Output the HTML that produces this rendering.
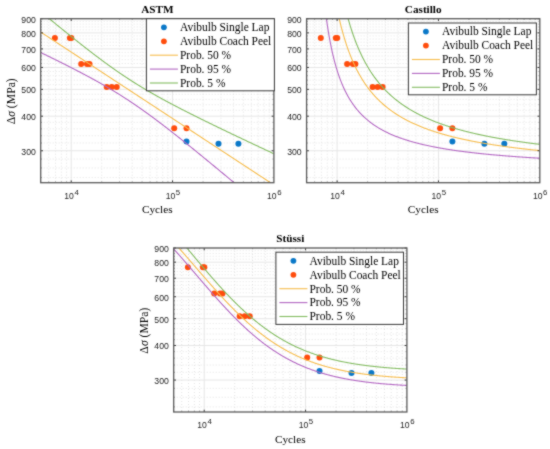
<!DOCTYPE html><html><head><meta charset="utf-8"><style>html,body{margin:0;padding:0;background:#fff;width:550px;height:449px;overflow:hidden}svg{display:block}.tk{font-family:"Liberation Sans",sans-serif;fill:#222}.sr{font-family:"Liberation Serif",serif;fill:#000}</style></head><body>
<div id="wrap"><svg width="550" height="449" viewBox="0 0 550 449"><filter id="bl" x="0" y="0" width="550" height="449" filterUnits="userSpaceOnUse" color-interpolation-filters="sRGB"><feConvolveMatrix order="3" kernelMatrix="1 2 1 2 14 2 1 2 1" divisor="26" edgeMode="duplicate"/></filter><g filter="url(#bl)"><rect width="550" height="449" fill="#fff"/>
<path d="M48.72 18.7V182.7M55.51 18.7V182.7M61.39 18.7V182.7M66.57 18.7V182.7M101.72 18.7V182.7M119.56 18.7V182.7M132.22 18.7V182.7M142.05 18.7V182.7M150.07 18.7V182.7M156.86 18.7V182.7M162.73 18.7V182.7M167.92 18.7V182.7M203.06 18.7V182.7M220.91 18.7V182.7M233.57 18.7V182.7M243.39 18.7V182.7M251.42 18.7V182.7M258.2 18.7V182.7M264.08 18.7V182.7M269.26 18.7V182.7M40.7 177.58H273.9M40.7 167.96H273.9M40.7 159.05H273.9M40.7 143H273.9M40.7 135.72H273.9M40.7 128.84H273.9M40.7 122.35H273.9M40.7 110.31H273.9M40.7 104.72H273.9M40.7 99.38H273.9M40.7 94.26H273.9M40.7 84.64H273.9M40.7 80.1H273.9M40.7 75.73H273.9M40.7 71.51H273.9M40.7 63.5H273.9M40.7 59.68H273.9M40.7 55.98H273.9M40.7 52.39H273.9M40.7 45.52H273.9M40.7 42.23H273.9M40.7 39.02H273.9M40.7 35.9H273.9M40.7 29.89H273.9M40.7 26.99H273.9M40.7 24.16H273.9M40.7 21.4H273.9" stroke="#d8d8d8" stroke-width="0.7" stroke-dasharray="1 2" fill="none"/>
<path d="M71.21 18.7V182.7M172.55 18.7V182.7M40.7 150.76H273.9M40.7 116.18H273.9M40.7 89.36H273.9M40.7 67.44H273.9M40.7 48.91H273.9M40.7 32.86H273.9M40.7 18.7H273.9" stroke="#e6e6e6" stroke-width="1" fill="none"/>
<circle cx="54.9" cy="37.9" r="3" fill="#FF4D0D"/>
<circle cx="69.9" cy="37.9" r="3" fill="#FF4D0D"/>
<circle cx="71.3" cy="37.9" r="3" fill="#FF4D0D"/>
<circle cx="81.2" cy="64.1" r="3" fill="#FF4D0D"/>
<circle cx="87" cy="64.1" r="3" fill="#FF4D0D"/>
<circle cx="89.5" cy="64.1" r="3" fill="#FF4D0D"/>
<circle cx="106.7" cy="86.9" r="3" fill="#FF4D0D"/>
<circle cx="111.7" cy="86.9" r="3" fill="#FF4D0D"/>
<circle cx="116.7" cy="86.9" r="3" fill="#FF4D0D"/>
<circle cx="174.2" cy="128.2" r="3" fill="#FF4D0D"/>
<circle cx="186.5" cy="128.2" r="3" fill="#FF4D0D"/>
<circle cx="186.5" cy="141.6" r="3" fill="#0A78C8"/>
<circle cx="218.5" cy="143.8" r="3" fill="#0A78C8"/>
<circle cx="238.4" cy="143.8" r="3" fill="#0A78C8"/>
<clipPath id="castm"><rect x="40.7" y="18.7" width="233.2" height="164"/></clipPath>
<polyline clip-path="url(#castm)" points="40.70,32.06 41.28,32.45 41.87,32.83 42.45,33.21 43.04,33.59 43.62,33.98 44.21,34.36 44.79,34.74 45.38,35.13 45.96,35.51 46.54,35.89 47.13,36.28 47.71,36.66 48.30,37.04 48.88,37.43 49.47,37.81 50.05,38.19 50.64,38.58 51.22,38.96 51.80,39.34 52.39,39.73 52.97,40.11 53.56,40.49 54.14,40.87 54.73,41.26 55.31,41.64 55.90,42.02 56.48,42.41 57.06,42.79 57.65,43.17 58.23,43.56 58.82,43.94 59.40,44.32 59.99,44.71 60.57,45.09 61.16,45.47 61.74,45.86 62.33,46.24 62.91,46.62 63.49,47.01 64.08,47.39 64.66,47.77 65.25,48.15 65.83,48.54 66.42,48.92 67.00,49.30 67.59,49.69 68.17,50.07 68.75,50.45 69.34,50.84 69.92,51.22 70.51,51.60 71.09,51.99 71.68,52.37 72.26,52.75 72.85,53.14 73.43,53.52 74.01,53.90 74.60,54.29 75.18,54.67 75.77,55.05 76.35,55.43 76.94,55.82 77.52,56.20 78.11,56.58 78.69,56.97 79.27,57.35 79.86,57.73 80.44,58.12 81.03,58.50 81.61,58.88 82.20,59.27 82.78,59.65 83.37,60.03 83.95,60.42 84.53,60.80 85.12,61.18 85.70,61.57 86.29,61.95 86.87,62.33 87.46,62.71 88.04,63.10 88.63,63.48 89.21,63.86 89.79,64.25 90.38,64.63 90.96,65.01 91.55,65.40 92.13,65.78 92.72,66.16 93.30,66.55 93.89,66.93 94.47,67.31 95.05,67.70 95.64,68.08 96.22,68.46 96.81,68.85 97.39,69.23 97.98,69.61 98.56,69.99 99.15,70.38 99.73,70.76 100.32,71.14 100.90,71.53 101.48,71.91 102.07,72.29 102.65,72.68 103.24,73.06 103.82,73.44 104.41,73.83 104.99,74.21 105.58,74.59 106.16,74.98 106.74,75.36 107.33,75.74 107.91,76.13 108.50,76.51 109.08,76.89 109.67,77.27 110.25,77.66 110.84,78.04 111.42,78.42 112.00,78.81 112.59,79.19 113.17,79.57 113.76,79.96 114.34,80.34 114.93,80.72 115.51,81.11 116.10,81.49 116.68,81.87 117.26,82.26 117.85,82.64 118.43,83.02 119.02,83.41 119.60,83.79 120.19,84.17 120.77,84.55 121.36,84.94 121.94,85.32 122.52,85.70 123.11,86.09 123.69,86.47 124.28,86.85 124.86,87.24 125.45,87.62 126.03,88.00 126.62,88.39 127.20,88.77 127.78,89.15 128.37,89.54 128.95,89.92 129.54,90.30 130.12,90.69 130.71,91.07 131.29,91.45 131.88,91.83 132.46,92.22 133.04,92.60 133.63,92.98 134.21,93.37 134.80,93.75 135.38,94.13 135.97,94.52 136.55,94.90 137.14,95.28 137.72,95.67 138.31,96.05 138.89,96.43 139.47,96.82 140.06,97.20 140.64,97.58 141.23,97.97 141.81,98.35 142.40,98.73 142.98,99.11 143.57,99.50 144.15,99.88 144.73,100.26 145.32,100.65 145.90,101.03 146.49,101.41 147.07,101.80 147.66,102.18 148.24,102.56 148.83,102.95 149.41,103.33 149.99,103.71 150.58,104.10 151.16,104.48 151.75,104.86 152.33,105.24 152.92,105.63 153.50,106.01 154.09,106.39 154.67,106.78 155.25,107.16 155.84,107.54 156.42,107.93 157.01,108.31 157.59,108.69 158.18,109.08 158.76,109.46 159.35,109.84 159.93,110.23 160.51,110.61 161.10,110.99 161.68,111.38 162.27,111.76 162.85,112.14 163.44,112.52 164.02,112.91 164.61,113.29 165.19,113.67 165.77,114.06 166.36,114.44 166.94,114.82 167.53,115.21 168.11,115.59 168.70,115.97 169.28,116.36 169.87,116.74 170.45,117.12 171.03,117.51 171.62,117.89 172.20,118.27 172.79,118.66 173.37,119.04 173.96,119.42 174.54,119.80 175.13,120.19 175.71,120.57 176.29,120.95 176.88,121.34 177.46,121.72 178.05,122.10 178.63,122.49 179.22,122.87 179.80,123.25 180.39,123.64 180.97,124.02 181.56,124.40 182.14,124.79 182.72,125.17 183.31,125.55 183.89,125.94 184.48,126.32 185.06,126.70 185.65,127.08 186.23,127.47 186.82,127.85 187.40,128.23 187.98,128.62 188.57,129.00 189.15,129.38 189.74,129.77 190.32,130.15 190.91,130.53 191.49,130.92 192.08,131.30 192.66,131.68 193.24,132.07 193.83,132.45 194.41,132.83 195.00,133.22 195.58,133.60 196.17,133.98 196.75,134.36 197.34,134.75 197.92,135.13 198.50,135.51 199.09,135.90 199.67,136.28 200.26,136.66 200.84,137.05 201.43,137.43 202.01,137.81 202.60,138.20 203.18,138.58 203.76,138.96 204.35,139.35 204.93,139.73 205.52,140.11 206.10,140.50 206.69,140.88 207.27,141.26 207.86,141.64 208.44,142.03 209.02,142.41 209.61,142.79 210.19,143.18 210.78,143.56 211.36,143.94 211.95,144.33 212.53,144.71 213.12,145.09 213.70,145.48 214.28,145.86 214.87,146.24 215.45,146.63 216.04,147.01 216.62,147.39 217.21,147.78 217.79,148.16 218.38,148.54 218.96,148.92 219.55,149.31 220.13,149.69 220.71,150.07 221.30,150.46 221.88,150.84 222.47,151.22 223.05,151.61 223.64,151.99 224.22,152.37 224.81,152.76 225.39,153.14 225.97,153.52 226.56,153.91 227.14,154.29 227.73,154.67 228.31,155.06 228.90,155.44 229.48,155.82 230.07,156.20 230.65,156.59 231.23,156.97 231.82,157.35 232.40,157.74 232.99,158.12 233.57,158.50 234.16,158.89 234.74,159.27 235.33,159.65 235.91,160.04 236.49,160.42 237.08,160.80 237.66,161.19 238.25,161.57 238.83,161.95 239.42,162.34 240.00,162.72 240.59,163.10 241.17,163.48 241.75,163.87 242.34,164.25 242.92,164.63 243.51,165.02 244.09,165.40 244.68,165.78 245.26,166.17 245.85,166.55 246.43,166.93 247.01,167.32 247.60,167.70 248.18,168.08 248.77,168.47 249.35,168.85 249.94,169.23 250.52,169.62 251.11,170.00 251.69,170.38 252.27,170.76 252.86,171.15 253.44,171.53 254.03,171.91 254.61,172.30 255.20,172.68 255.78,173.06 256.37,173.45 256.95,173.83 257.54,174.21 258.12,174.60 258.70,174.98 259.29,175.36 259.87,175.75 260.46,176.13 261.04,176.51 261.63,176.90 262.21,177.28 262.80,177.66 263.38,178.04 263.96,178.43 264.55,178.81 265.13,179.19 265.72,179.58 266.30,179.96 266.89,180.34 267.47,180.73 268.06,181.11 268.64,181.49 269.22,181.88 269.81,182.26 270.39,182.64 270.98,183.03 271.56,183.41 272.15,183.79 272.73,184.17 273.32,184.56 273.90,184.94" fill="none" stroke="#F6BC4C" stroke-width="1.1"/>
<polyline clip-path="url(#castm)" points="40.70,52.50 41.28,52.78 41.87,53.07 42.45,53.35 43.04,53.64 43.62,53.92 44.21,54.21 44.79,54.49 45.38,54.78 45.96,55.06 46.54,55.35 47.13,55.63 47.71,55.92 48.30,56.20 48.88,56.49 49.47,56.78 50.05,57.06 50.64,57.35 51.22,57.64 51.80,57.93 52.39,58.21 52.97,58.50 53.56,58.79 54.14,59.08 54.73,59.37 55.31,59.66 55.90,59.94 56.48,60.23 57.06,60.52 57.65,60.81 58.23,61.10 58.82,61.40 59.40,61.69 59.99,61.98 60.57,62.27 61.16,62.56 61.74,62.85 62.33,63.15 62.91,63.44 63.49,63.73 64.08,64.03 64.66,64.32 65.25,64.61 65.83,64.91 66.42,65.20 67.00,65.50 67.59,65.80 68.17,66.09 68.75,66.39 69.34,66.68 69.92,66.98 70.51,67.28 71.09,67.58 71.68,67.88 72.26,68.17 72.85,68.47 73.43,68.77 74.01,69.07 74.60,69.37 75.18,69.68 75.77,69.98 76.35,70.28 76.94,70.58 77.52,70.89 78.11,71.19 78.69,71.49 79.27,71.80 79.86,72.10 80.44,72.41 81.03,72.71 81.61,73.02 82.20,73.33 82.78,73.64 83.37,73.94 83.95,74.25 84.53,74.56 85.12,74.87 85.70,75.18 86.29,75.50 86.87,75.81 87.46,76.12 88.04,76.43 88.63,76.75 89.21,77.06 89.79,77.38 90.38,77.69 90.96,78.01 91.55,78.33 92.13,78.65 92.72,78.96 93.30,79.28 93.89,79.60 94.47,79.93 95.05,80.25 95.64,80.57 96.22,80.89 96.81,81.22 97.39,81.54 97.98,81.87 98.56,82.20 99.15,82.53 99.73,82.85 100.32,83.18 100.90,83.51 101.48,83.85 102.07,84.18 102.65,84.51 103.24,84.85 103.82,85.18 104.41,85.52 104.99,85.85 105.58,86.19 106.16,86.53 106.74,86.87 107.33,87.21 107.91,87.55 108.50,87.90 109.08,88.24 109.67,88.59 110.25,88.93 110.84,89.28 111.42,89.63 112.00,89.98 112.59,90.33 113.17,90.68 113.76,91.04 114.34,91.39 114.93,91.75 115.51,92.10 116.10,92.46 116.68,92.82 117.26,93.18 117.85,93.54 118.43,93.91 119.02,94.27 119.60,94.63 120.19,95.00 120.77,95.37 121.36,95.74 121.94,96.11 122.52,96.48 123.11,96.85 123.69,97.23 124.28,97.60 124.86,97.98 125.45,98.36 126.03,98.73 126.62,99.12 127.20,99.50 127.78,99.88 128.37,100.26 128.95,100.65 129.54,101.04 130.12,101.42 130.71,101.81 131.29,102.20 131.88,102.60 132.46,102.99 133.04,103.38 133.63,103.78 134.21,104.17 134.80,104.57 135.38,104.97 135.97,105.37 136.55,105.77 137.14,106.18 137.72,106.58 138.31,106.99 138.89,107.39 139.47,107.80 140.06,108.21 140.64,108.62 141.23,109.03 141.81,109.44 142.40,109.86 142.98,110.27 143.57,110.69 144.15,111.11 144.73,111.52 145.32,111.94 145.90,112.36 146.49,112.79 147.07,113.21 147.66,113.63 148.24,114.06 148.83,114.48 149.41,114.91 149.99,115.34 150.58,115.76 151.16,116.19 151.75,116.62 152.33,117.06 152.92,117.49 153.50,117.92 154.09,118.36 154.67,118.79 155.25,119.23 155.84,119.67 156.42,120.10 157.01,120.54 157.59,120.98 158.18,121.42 158.76,121.86 159.35,122.31 159.93,122.75 160.51,123.19 161.10,123.64 161.68,124.08 162.27,124.53 162.85,124.98 163.44,125.43 164.02,125.87 164.61,126.32 165.19,126.77 165.77,127.22 166.36,127.68 166.94,128.13 167.53,128.58 168.11,129.03 168.70,129.49 169.28,129.94 169.87,130.40 170.45,130.85 171.03,131.31 171.62,131.77 172.20,132.22 172.79,132.68 173.37,133.14 173.96,133.60 174.54,134.06 175.13,134.52 175.71,134.98 176.29,135.44 176.88,135.91 177.46,136.37 178.05,136.83 178.63,137.29 179.22,137.76 179.80,138.22 180.39,138.69 180.97,139.15 181.56,139.62 182.14,140.09 182.72,140.55 183.31,141.02 183.89,141.49 184.48,141.96 185.06,142.42 185.65,142.89 186.23,143.36 186.82,143.83 187.40,144.30 187.98,144.77 188.57,145.24 189.15,145.71 189.74,146.19 190.32,146.66 190.91,147.13 191.49,147.60 192.08,148.08 192.66,148.55 193.24,149.02 193.83,149.50 194.41,149.97 195.00,150.44 195.58,150.92 196.17,151.39 196.75,151.87 197.34,152.35 197.92,152.82 198.50,153.30 199.09,153.77 199.67,154.25 200.26,154.73 200.84,155.21 201.43,155.68 202.01,156.16 202.60,156.64 203.18,157.12 203.76,157.60 204.35,158.08 204.93,158.56 205.52,159.03 206.10,159.51 206.69,159.99 207.27,160.47 207.86,160.95 208.44,161.43 209.02,161.92 209.61,162.40 210.19,162.88 210.78,163.36 211.36,163.84 211.95,164.32 212.53,164.80 213.12,165.29 213.70,165.77 214.28,166.25 214.87,166.73 215.45,167.22 216.04,167.70 216.62,168.18 217.21,168.67 217.79,169.15 218.38,169.63 218.96,170.12 219.55,170.60 220.13,171.09 220.71,171.57 221.30,172.06 221.88,172.54 222.47,173.03 223.05,173.51 223.64,174.00 224.22,174.48 224.81,174.97 225.39,175.45 225.97,175.94 226.56,176.42 227.14,176.91 227.73,177.40 228.31,177.88 228.90,178.37 229.48,178.86 230.07,179.34 230.65,179.83 231.23,180.32 231.82,180.80 232.40,181.29 232.99,181.78 233.57,182.27 234.16,182.75 234.74,183.24 235.33,183.73 235.91,184.22 236.49,184.70 237.08,185.19 237.66,185.68 238.25,186.17 238.83,186.66 239.42,187.15 240.00,187.63 240.59,188.12 241.17,188.61 241.75,189.10 242.34,189.59 242.92,190.08 243.51,190.57 244.09,191.06 244.68,191.55 245.26,192.04 245.85,192.53 246.43,193.02 247.01,193.51 247.60,194.00 248.18,194.49 248.77,194.98 249.35,195.47 249.94,195.96 250.52,196.45 251.11,196.94 251.69,197.43 252.27,197.92 252.86,198.41 253.44,198.90 254.03,199.39 254.61,199.88 255.20,200.37 255.78,200.86 256.37,201.35 256.95,201.85 257.54,202.34 258.12,202.83 258.70,203.32 259.29,203.81 259.87,204.30 260.46,204.79 261.04,205.29 261.63,205.78 262.21,206.27 262.80,206.76 263.38,207.25 263.96,207.75 264.55,208.24 265.13,208.73 265.72,209.22 266.30,209.71 266.89,210.21 267.47,210.70 268.06,211.19 268.64,211.68 269.22,212.18 269.81,212.67 270.39,213.16 270.98,213.65 271.56,214.15 272.15,214.64 272.73,215.13 273.32,215.62 273.90,216.12" fill="none" stroke="#B266C2" stroke-width="1.1"/>
<polyline clip-path="url(#castm)" points="40.70,11.62 41.28,12.11 41.87,12.59 42.45,13.07 43.04,13.55 43.62,14.04 44.21,14.52 44.79,15.00 45.38,15.48 45.96,15.96 46.54,16.44 47.13,16.92 47.71,17.40 48.30,17.88 48.88,18.36 49.47,18.84 50.05,19.32 50.64,19.80 51.22,20.28 51.80,20.76 52.39,21.24 52.97,21.72 53.56,22.19 54.14,22.67 54.73,23.15 55.31,23.63 55.90,24.10 56.48,24.58 57.06,25.06 57.65,25.53 58.23,26.01 58.82,26.48 59.40,26.96 59.99,27.43 60.57,27.91 61.16,28.38 61.74,28.86 62.33,29.33 62.91,29.80 63.49,30.28 64.08,30.75 64.66,31.22 65.25,31.70 65.83,32.17 66.42,32.64 67.00,33.11 67.59,33.58 68.17,34.05 68.75,34.52 69.34,34.99 69.92,35.46 70.51,35.93 71.09,36.40 71.68,36.86 72.26,37.33 72.85,37.80 73.43,38.26 74.01,38.73 74.60,39.20 75.18,39.66 75.77,40.13 76.35,40.59 76.94,41.05 77.52,41.52 78.11,41.98 78.69,42.44 79.27,42.90 79.86,43.37 80.44,43.83 81.03,44.29 81.61,44.75 82.20,45.20 82.78,45.66 83.37,46.12 83.95,46.58 84.53,47.04 85.12,47.49 85.70,47.95 86.29,48.40 86.87,48.86 87.46,49.31 88.04,49.76 88.63,50.21 89.21,50.67 89.79,51.12 90.38,51.57 90.96,52.02 91.55,52.47 92.13,52.91 92.72,53.36 93.30,53.81 93.89,54.25 94.47,54.70 95.05,55.14 95.64,55.59 96.22,56.03 96.81,56.47 97.39,56.91 97.98,57.35 98.56,57.79 99.15,58.23 99.73,58.67 100.32,59.10 100.90,59.54 101.48,59.98 102.07,60.41 102.65,60.84 103.24,61.27 103.82,61.71 104.41,62.14 104.99,62.57 105.58,62.99 106.16,63.42 106.74,63.85 107.33,64.27 107.91,64.70 108.50,65.12 109.08,65.54 109.67,65.96 110.25,66.38 110.84,66.80 111.42,67.22 112.00,67.63 112.59,68.05 113.17,68.46 113.76,68.88 114.34,69.29 114.93,69.70 115.51,70.11 116.10,70.52 116.68,70.92 117.26,71.33 117.85,71.73 118.43,72.14 119.02,72.54 119.60,72.94 120.19,73.34 120.77,73.74 121.36,74.14 121.94,74.53 122.52,74.93 123.11,75.32 123.69,75.71 124.28,76.11 124.86,76.50 125.45,76.88 126.03,77.27 126.62,77.66 127.20,78.04 127.78,78.43 128.37,78.81 128.95,79.19 129.54,79.57 130.12,79.95 130.71,80.32 131.29,80.70 131.88,81.07 132.46,81.45 133.04,81.82 133.63,82.19 134.21,82.56 134.80,82.93 135.38,83.29 135.97,83.66 136.55,84.03 137.14,84.39 137.72,84.75 138.31,85.11 138.89,85.47 139.47,85.83 140.06,86.19 140.64,86.54 141.23,86.90 141.81,87.25 142.40,87.60 142.98,87.96 143.57,88.31 144.15,88.66 144.73,89.00 145.32,89.35 145.90,89.70 146.49,90.04 147.07,90.39 147.66,90.73 148.24,91.07 148.83,91.41 149.41,91.75 149.99,92.09 150.58,92.43 151.16,92.76 151.75,93.10 152.33,93.43 152.92,93.77 153.50,94.10 154.09,94.43 154.67,94.76 155.25,95.09 155.84,95.42 156.42,95.75 157.01,96.08 157.59,96.40 158.18,96.73 158.76,97.05 159.35,97.38 159.93,97.70 160.51,98.02 161.10,98.35 161.68,98.67 162.27,98.99 162.85,99.31 163.44,99.62 164.02,99.94 164.61,100.26 165.19,100.58 165.77,100.89 166.36,101.21 166.94,101.52 167.53,101.83 168.11,102.15 168.70,102.46 169.28,102.77 169.87,103.08 170.45,103.39 171.03,103.70 171.62,104.01 172.20,104.32 172.79,104.63 173.37,104.94 173.96,105.24 174.54,105.55 175.13,105.86 175.71,106.16 176.29,106.47 176.88,106.77 177.46,107.07 178.05,107.38 178.63,107.68 179.22,107.98 179.80,108.28 180.39,108.58 180.97,108.89 181.56,109.19 182.14,109.49 182.72,109.79 183.31,110.08 183.89,110.38 184.48,110.68 185.06,110.98 185.65,111.28 186.23,111.57 186.82,111.87 187.40,112.17 187.98,112.46 188.57,112.76 189.15,113.05 189.74,113.35 190.32,113.64 190.91,113.94 191.49,114.23 192.08,114.52 192.66,114.82 193.24,115.11 193.83,115.40 194.41,115.69 195.00,115.99 195.58,116.28 196.17,116.57 196.75,116.86 197.34,117.15 197.92,117.44 198.50,117.73 199.09,118.02 199.67,118.31 200.26,118.60 200.84,118.89 201.43,119.18 202.01,119.46 202.60,119.75 203.18,120.04 203.76,120.33 204.35,120.62 204.93,120.90 205.52,121.19 206.10,121.48 206.69,121.76 207.27,122.05 207.86,122.34 208.44,122.62 209.02,122.91 209.61,123.19 210.19,123.48 210.78,123.76 211.36,124.05 211.95,124.33 212.53,124.62 213.12,124.90 213.70,125.18 214.28,125.47 214.87,125.75 215.45,126.03 216.04,126.32 216.62,126.60 217.21,126.88 217.79,127.17 218.38,127.45 218.96,127.73 219.55,128.01 220.13,128.30 220.71,128.58 221.30,128.86 221.88,129.14 222.47,129.42 223.05,129.70 223.64,129.98 224.22,130.27 224.81,130.55 225.39,130.83 225.97,131.11 226.56,131.39 227.14,131.67 227.73,131.95 228.31,132.23 228.90,132.51 229.48,132.79 230.07,133.07 230.65,133.35 231.23,133.63 231.82,133.91 232.40,134.18 232.99,134.46 233.57,134.74 234.16,135.02 234.74,135.30 235.33,135.58 235.91,135.86 236.49,136.13 237.08,136.41 237.66,136.69 238.25,136.97 238.83,137.25 239.42,137.52 240.00,137.80 240.59,138.08 241.17,138.36 241.75,138.63 242.34,138.91 242.92,139.19 243.51,139.47 244.09,139.74 244.68,140.02 245.26,140.30 245.85,140.57 246.43,140.85 247.01,141.13 247.60,141.40 248.18,141.68 248.77,141.95 249.35,142.23 249.94,142.51 250.52,142.78 251.11,143.06 251.69,143.33 252.27,143.61 252.86,143.89 253.44,144.16 254.03,144.44 254.61,144.71 255.20,144.99 255.78,145.26 256.37,145.54 256.95,145.81 257.54,146.09 258.12,146.36 258.70,146.64 259.29,146.91 259.87,147.19 260.46,147.46 261.04,147.74 261.63,148.01 262.21,148.29 262.80,148.56 263.38,148.84 263.96,149.11 264.55,149.38 265.13,149.66 265.72,149.93 266.30,150.21 266.89,150.48 267.47,150.75 268.06,151.03 268.64,151.30 269.22,151.58 269.81,151.85 270.39,152.12 270.98,152.40 271.56,152.67 272.15,152.94 272.73,153.22 273.32,153.49 273.90,153.76" fill="none" stroke="#84BC62" stroke-width="1.1"/>
<path d="M71.21 182.7v-2.3M71.21 18.7v2.3M172.55 182.7v-2.3M172.55 18.7v2.3M40.7 150.76h2.3M273.9 150.76h-2.3M40.7 116.18h2.3M273.9 116.18h-2.3M40.7 89.36h2.3M273.9 89.36h-2.3M40.7 67.44h2.3M273.9 67.44h-2.3M40.7 48.91h2.3M273.9 48.91h-2.3M40.7 32.86h2.3M273.9 32.86h-2.3M40.7 18.7h2.3M273.9 18.7h-2.3" stroke="#262626" stroke-width="0.9" fill="none"/>
<path d="M40.7 182.7v-1.3M40.7 18.7v1.3M48.72 182.7v-1.3M48.72 18.7v1.3M55.51 182.7v-1.3M55.51 18.7v1.3M61.39 182.7v-1.3M61.39 18.7v1.3M66.57 182.7v-1.3M66.57 18.7v1.3M101.72 182.7v-1.3M101.72 18.7v1.3M119.56 182.7v-1.3M119.56 18.7v1.3M132.22 182.7v-1.3M132.22 18.7v1.3M142.05 182.7v-1.3M142.05 18.7v1.3M150.07 182.7v-1.3M150.07 18.7v1.3M156.86 182.7v-1.3M156.86 18.7v1.3M162.73 182.7v-1.3M162.73 18.7v1.3M167.92 182.7v-1.3M167.92 18.7v1.3M203.06 182.7v-1.3M203.06 18.7v1.3M220.91 182.7v-1.3M220.91 18.7v1.3M233.57 182.7v-1.3M233.57 18.7v1.3M243.39 182.7v-1.3M243.39 18.7v1.3M251.42 182.7v-1.3M251.42 18.7v1.3M258.2 182.7v-1.3M258.2 18.7v1.3M264.08 182.7v-1.3M264.08 18.7v1.3M269.26 182.7v-1.3M269.26 18.7v1.3M40.7 177.58h1.3M273.9 177.58h-1.3M40.7 167.96h1.3M273.9 167.96h-1.3M40.7 159.05h1.3M273.9 159.05h-1.3M40.7 143h1.3M273.9 143h-1.3M40.7 135.72h1.3M273.9 135.72h-1.3M40.7 128.84h1.3M273.9 128.84h-1.3M40.7 122.35h1.3M273.9 122.35h-1.3M40.7 110.31h1.3M273.9 110.31h-1.3M40.7 104.72h1.3M273.9 104.72h-1.3M40.7 99.38h1.3M273.9 99.38h-1.3M40.7 94.26h1.3M273.9 94.26h-1.3M40.7 84.64h1.3M273.9 84.64h-1.3M40.7 80.1h1.3M273.9 80.1h-1.3M40.7 75.73h1.3M273.9 75.73h-1.3M40.7 71.51h1.3M273.9 71.51h-1.3M40.7 63.5h1.3M273.9 63.5h-1.3M40.7 59.68h1.3M273.9 59.68h-1.3M40.7 55.98h1.3M273.9 55.98h-1.3M40.7 52.39h1.3M273.9 52.39h-1.3M40.7 45.52h1.3M273.9 45.52h-1.3M40.7 42.23h1.3M273.9 42.23h-1.3M40.7 39.02h1.3M273.9 39.02h-1.3M40.7 35.9h1.3M273.9 35.9h-1.3M40.7 29.89h1.3M273.9 29.89h-1.3M40.7 26.99h1.3M273.9 26.99h-1.3M40.7 24.16h1.3M273.9 24.16h-1.3M40.7 21.4h1.3M273.9 21.4h-1.3" stroke="#777" stroke-width="0.6" fill="none"/>
<rect x="40.7" y="18.7" width="233.2" height="164" fill="none" stroke="#5a5a5a" stroke-width="1.3"/>
<text class="tk" x="35.8" y="154.71" text-anchor="end" font-size="9.8" textLength="14.5" lengthAdjust="spacingAndGlyphs">300</text>
<text class="tk" x="35.8" y="120.13" text-anchor="end" font-size="9.8" textLength="14.5" lengthAdjust="spacingAndGlyphs">400</text>
<text class="tk" x="35.8" y="93.31" text-anchor="end" font-size="9.8" textLength="14.5" lengthAdjust="spacingAndGlyphs">500</text>
<text class="tk" x="35.8" y="71.39" text-anchor="end" font-size="9.8" textLength="14.5" lengthAdjust="spacingAndGlyphs">600</text>
<text class="tk" x="35.8" y="52.86" text-anchor="end" font-size="9.8" textLength="14.5" lengthAdjust="spacingAndGlyphs">700</text>
<text class="tk" x="35.8" y="36.81" text-anchor="end" font-size="9.8" textLength="14.5" lengthAdjust="spacingAndGlyphs">800</text>
<text class="tk" x="35.8" y="22.65" text-anchor="end" font-size="9.8" textLength="14.5" lengthAdjust="spacingAndGlyphs">900</text>
<text class="tk" x="64.31" y="199.1" font-size="9.8" textLength="9.6" lengthAdjust="spacingAndGlyphs">10</text><text class="tk" x="74.51" y="194.6" font-size="7.8">4</text>
<text class="tk" x="165.65" y="199.1" font-size="9.8" textLength="9.6" lengthAdjust="spacingAndGlyphs">10</text><text class="tk" x="175.85" y="194.6" font-size="7.8">5</text>
<text class="tk" x="267" y="199.1" font-size="9.8" textLength="9.6" lengthAdjust="spacingAndGlyphs">10</text><text class="tk" x="277.2" y="194.6" font-size="7.8">6</text>
<text class="sr" x="157.3" y="213.2" font-size="11.3" text-anchor="middle">Cycles</text>
<text class="sr" x="157.3" y="13.1" font-size="11.2" font-weight="bold" text-anchor="middle">ASTM</text>
<text class="sr" transform="translate(14.8 101.3) rotate(-90)" x="0" y="0" font-size="11.7" text-anchor="middle">Δ<tspan font-style="italic">σ</tspan> (MPa)</text>
<rect x="146.4" y="18.7" width="128" height="72.1" fill="#fff" stroke="#383838" stroke-width="1"/>
<circle cx="163.9" cy="27.3" r="2.9" fill="#0A78C8"/>
<text class="sr" x="180" y="31.1" font-size="11.45">Avibulb Single Lap</text>
<circle cx="163.9" cy="41.3" r="2.9" fill="#FF4D0D"/>
<text class="sr" x="180" y="45.1" font-size="11.45">Avibulb Coach Peel</text>
<path d="M149.9 55.2H177.9" stroke="#F6BC4C" stroke-width="1.1"/>
<text class="sr" x="180" y="59" font-size="11.45">Prob. 50 %</text>
<path d="M149.9 69.1H177.9" stroke="#B266C2" stroke-width="1.1"/>
<text class="sr" x="180" y="72.9" font-size="11.45">Prob. 95 %</text>
<path d="M149.9 83H177.9" stroke="#84BC62" stroke-width="1.1"/>
<text class="sr" x="180" y="86.8" font-size="11.45">Prob. 5 %</text>
<path d="M314.62 18.7V182.7M321.41 18.7V182.7M327.29 18.7V182.7M332.47 18.7V182.7M367.62 18.7V182.7M385.46 18.7V182.7M398.12 18.7V182.7M407.95 18.7V182.7M415.97 18.7V182.7M422.76 18.7V182.7M428.63 18.7V182.7M433.82 18.7V182.7M468.96 18.7V182.7M486.81 18.7V182.7M499.47 18.7V182.7M509.29 18.7V182.7M517.32 18.7V182.7M524.1 18.7V182.7M529.98 18.7V182.7M535.16 18.7V182.7M306.6 177.58H539.8M306.6 167.96H539.8M306.6 159.05H539.8M306.6 143H539.8M306.6 135.72H539.8M306.6 128.84H539.8M306.6 122.35H539.8M306.6 110.31H539.8M306.6 104.72H539.8M306.6 99.38H539.8M306.6 94.26H539.8M306.6 84.64H539.8M306.6 80.1H539.8M306.6 75.73H539.8M306.6 71.51H539.8M306.6 63.5H539.8M306.6 59.68H539.8M306.6 55.98H539.8M306.6 52.39H539.8M306.6 45.52H539.8M306.6 42.23H539.8M306.6 39.02H539.8M306.6 35.9H539.8M306.6 29.89H539.8M306.6 26.99H539.8M306.6 24.16H539.8M306.6 21.4H539.8" stroke="#d8d8d8" stroke-width="0.7" stroke-dasharray="1 2" fill="none"/>
<path d="M337.11 18.7V182.7M438.45 18.7V182.7M306.6 150.76H539.8M306.6 116.18H539.8M306.6 89.36H539.8M306.6 67.44H539.8M306.6 48.91H539.8M306.6 32.86H539.8M306.6 18.7H539.8" stroke="#e6e6e6" stroke-width="1" fill="none"/>
<circle cx="320.8" cy="37.9" r="3" fill="#FF4D0D"/>
<circle cx="335.8" cy="37.9" r="3" fill="#FF4D0D"/>
<circle cx="337.2" cy="37.9" r="3" fill="#FF4D0D"/>
<circle cx="347.1" cy="64.1" r="3" fill="#FF4D0D"/>
<circle cx="352.9" cy="64.1" r="3" fill="#FF4D0D"/>
<circle cx="355.4" cy="64.1" r="3" fill="#FF4D0D"/>
<circle cx="372.6" cy="86.9" r="3" fill="#FF4D0D"/>
<circle cx="377.6" cy="86.9" r="3" fill="#FF4D0D"/>
<circle cx="382.6" cy="86.9" r="3" fill="#FF4D0D"/>
<circle cx="440.1" cy="128.2" r="3" fill="#FF4D0D"/>
<circle cx="452.4" cy="128.2" r="3" fill="#FF4D0D"/>
<circle cx="452.4" cy="141.6" r="3" fill="#0A78C8"/>
<circle cx="484.4" cy="143.8" r="3" fill="#0A78C8"/>
<circle cx="504.3" cy="143.8" r="3" fill="#0A78C8"/>
<clipPath id="ccas"><rect x="306.6" y="18.7" width="233.2" height="164"/></clipPath>
<polyline clip-path="url(#ccas)" points="306.60,-270.75 307.18,-270.75 307.77,-270.75 308.35,-270.75 308.94,-270.75 309.52,-270.75 310.11,-270.75 310.69,-270.75 311.28,-270.75 311.86,-270.75 312.44,-270.75 313.03,-270.75 313.61,-270.75 314.20,-270.75 314.78,-270.75 315.37,-270.75 315.95,-267.34 316.54,-247.85 317.12,-230.01 317.70,-213.61 318.29,-198.50 318.87,-184.51 319.46,-171.54 320.04,-159.47 320.63,-148.22 321.21,-137.70 321.80,-127.85 322.38,-118.60 322.96,-109.90 323.55,-101.70 324.13,-93.96 324.72,-86.65 325.30,-79.72 325.89,-73.15 326.47,-66.91 327.06,-60.98 327.64,-55.33 328.23,-49.95 328.81,-44.82 329.39,-39.91 329.98,-35.22 330.56,-30.73 331.15,-26.43 331.73,-22.31 332.32,-18.35 332.90,-14.55 333.49,-10.89 334.07,-7.38 334.65,-3.99 335.24,-0.73 335.82,2.41 336.41,5.44 336.99,8.37 337.58,11.20 338.16,13.93 338.75,16.57 339.33,19.13 339.91,21.61 340.50,24.00 341.08,26.33 341.67,28.58 342.25,30.76 342.84,32.88 343.42,34.94 344.01,36.94 344.59,38.89 345.17,40.77 345.76,42.61 346.34,44.40 346.93,46.14 347.51,47.83 348.10,49.48 348.68,51.08 349.27,52.65 349.85,54.18 350.43,55.66 351.02,57.12 351.60,58.53 352.19,59.92 352.77,61.27 353.36,62.59 353.94,63.87 354.53,65.13 355.11,66.36 355.69,67.57 356.28,68.74 356.86,69.89 357.45,71.02 358.03,72.12 358.62,73.20 359.20,74.26 359.79,75.29 360.37,76.30 360.95,77.30 361.54,78.27 362.12,79.22 362.71,80.16 363.29,81.07 363.88,81.97 364.46,82.85 365.05,83.72 365.63,84.57 366.22,85.40 366.80,86.22 367.38,87.02 367.97,87.81 368.55,88.58 369.14,89.34 369.72,90.09 370.31,90.82 370.89,91.54 371.48,92.25 372.06,92.95 372.64,93.63 373.23,94.31 373.81,94.97 374.40,95.62 374.98,96.26 375.57,96.89 376.15,97.51 376.74,98.12 377.32,98.72 377.90,99.31 378.49,99.90 379.07,100.47 379.66,101.03 380.24,101.59 380.83,102.14 381.41,102.68 382.00,103.21 382.58,103.73 383.16,104.25 383.75,104.76 384.33,105.26 384.92,105.75 385.50,106.24 386.09,106.72 386.67,107.19 387.26,107.66 387.84,108.12 388.42,108.57 389.01,109.02 389.59,109.46 390.18,109.90 390.76,110.33 391.35,110.75 391.93,111.17 392.52,111.58 393.10,111.99 393.68,112.39 394.27,112.79 394.85,113.18 395.44,113.57 396.02,113.95 396.61,114.33 397.19,114.70 397.78,115.07 398.36,115.43 398.94,115.79 399.53,116.15 400.11,116.50 400.70,116.84 401.28,117.19 401.87,117.52 402.45,117.86 403.04,118.19 403.62,118.51 404.21,118.84 404.79,119.16 405.37,119.47 405.96,119.78 406.54,120.09 407.13,120.40 407.71,120.70 408.30,121.00 408.88,121.29 409.47,121.58 410.05,121.87 410.63,122.15 411.22,122.44 411.80,122.72 412.39,122.99 412.97,123.26 413.56,123.53 414.14,123.80 414.73,124.07 415.31,124.33 415.89,124.59 416.48,124.84 417.06,125.10 417.65,125.35 418.23,125.60 418.82,125.84 419.40,126.09 419.99,126.33 420.57,126.57 421.15,126.80 421.74,127.04 422.32,127.27 422.91,127.50 423.49,127.72 424.08,127.95 424.66,128.17 425.25,128.39 425.83,128.61 426.41,128.83 427.00,129.04 427.58,129.25 428.17,129.47 428.75,129.67 429.34,129.88 429.92,130.08 430.51,130.29 431.09,130.49 431.67,130.69 432.26,130.88 432.84,131.08 433.43,131.27 434.01,131.47 434.60,131.66 435.18,131.85 435.77,132.03 436.35,132.22 436.93,132.40 437.52,132.58 438.10,132.76 438.69,132.94 439.27,133.12 439.86,133.30 440.44,133.47 441.03,133.64 441.61,133.81 442.19,133.98 442.78,134.15 443.36,134.32 443.95,134.49 444.53,134.65 445.12,134.81 445.70,134.98 446.29,135.14 446.87,135.29 447.46,135.45 448.04,135.61 448.62,135.76 449.21,135.92 449.79,136.07 450.38,136.22 450.96,136.37 451.55,136.52 452.13,136.67 452.72,136.82 453.30,136.96 453.88,137.11 454.47,137.25 455.05,137.39 455.64,137.53 456.22,137.68 456.81,137.81 457.39,137.95 457.98,138.09 458.56,138.23 459.14,138.36 459.73,138.49 460.31,138.63 460.90,138.76 461.48,138.89 462.07,139.02 462.65,139.15 463.24,139.28 463.82,139.40 464.40,139.53 464.99,139.66 465.57,139.78 466.16,139.90 466.74,140.03 467.33,140.15 467.91,140.27 468.50,140.39 469.08,140.51 469.66,140.63 470.25,140.75 470.83,140.86 471.42,140.98 472.00,141.09 472.59,141.21 473.17,141.32 473.76,141.43 474.34,141.55 474.92,141.66 475.51,141.77 476.09,141.88 476.68,141.99 477.26,142.10 477.85,142.20 478.43,142.31 479.02,142.42 479.60,142.52 480.18,142.63 480.77,142.73 481.35,142.83 481.94,142.94 482.52,143.04 483.11,143.14 483.69,143.24 484.28,143.34 484.86,143.44 485.45,143.54 486.03,143.64 486.61,143.73 487.20,143.83 487.78,143.93 488.37,144.02 488.95,144.12 489.54,144.21 490.12,144.31 490.71,144.40 491.29,144.49 491.87,144.58 492.46,144.68 493.04,144.77 493.63,144.86 494.21,144.95 494.80,145.04 495.38,145.13 495.97,145.21 496.55,145.30 497.13,145.39 497.72,145.48 498.30,145.56 498.89,145.65 499.47,145.73 500.06,145.82 500.64,145.90 501.23,145.98 501.81,146.07 502.39,146.15 502.98,146.23 503.56,146.31 504.15,146.40 504.73,146.48 505.32,146.56 505.90,146.64 506.49,146.72 507.07,146.79 507.65,146.87 508.24,146.95 508.82,147.03 509.41,147.11 509.99,147.18 510.58,147.26 511.16,147.33 511.75,147.41 512.33,147.48 512.91,147.56 513.50,147.63 514.08,147.71 514.67,147.78 515.25,147.85 515.84,147.93 516.42,148.00 517.01,148.07 517.59,148.14 518.17,148.21 518.76,148.28 519.34,148.35 519.93,148.42 520.51,148.49 521.10,148.56 521.68,148.63 522.27,148.70 522.85,148.77 523.44,148.83 524.02,148.90 524.60,148.97 525.19,149.03 525.77,149.10 526.36,149.17 526.94,149.23 527.53,149.30 528.11,149.36 528.70,149.43 529.28,149.49 529.86,149.55 530.45,149.62 531.03,149.68 531.62,149.74 532.20,149.81 532.79,149.87 533.37,149.93 533.96,149.99 534.54,150.05 535.12,150.11 535.71,150.17 536.29,150.23 536.88,150.29 537.46,150.35 538.05,150.41 538.63,150.47 539.22,150.53 539.80,150.59" fill="none" stroke="#F6BC4C" stroke-width="1.1"/>
<polyline clip-path="url(#ccas)" points="306.60,-270.75 307.18,-270.75 307.77,-270.75 308.35,-270.75 308.94,-270.75 309.52,-270.75 310.11,-270.75 310.69,-270.75 311.28,-270.75 311.86,-270.75 312.44,-270.75 313.03,-248.42 313.61,-218.69 314.20,-192.88 314.78,-170.28 315.37,-150.31 315.95,-132.54 316.54,-116.63 317.12,-102.30 317.70,-89.32 318.29,-77.52 318.87,-66.73 319.46,-56.85 320.04,-47.74 320.63,-39.34 321.21,-31.55 321.80,-24.32 322.38,-17.58 322.96,-11.29 323.55,-5.40 324.13,0.12 324.72,5.30 325.30,10.19 325.89,14.79 326.47,19.14 327.06,23.26 327.64,27.16 328.23,30.86 328.81,34.37 329.39,37.72 329.98,40.90 330.56,43.94 331.15,46.84 331.73,49.62 332.32,52.27 332.90,54.81 333.49,57.24 334.07,59.58 334.65,61.82 335.24,63.97 335.82,66.05 336.41,68.04 336.99,69.96 337.58,71.81 338.16,73.60 338.75,75.32 339.33,76.98 339.91,78.59 340.50,80.14 341.08,81.64 341.67,83.10 342.25,84.50 342.84,85.87 343.42,87.19 344.01,88.47 344.59,89.72 345.17,90.92 345.76,92.10 346.34,93.24 346.93,94.34 347.51,95.42 348.10,96.47 348.68,97.49 349.27,98.48 349.85,99.44 350.43,100.38 351.02,101.30 351.60,102.19 352.19,103.06 352.77,103.91 353.36,104.74 353.94,105.55 354.53,106.34 355.11,107.11 355.69,107.87 356.28,108.60 356.86,109.32 357.45,110.02 358.03,110.71 358.62,111.38 359.20,112.04 359.79,112.69 360.37,113.32 360.95,113.93 361.54,114.54 362.12,115.13 362.71,115.71 363.29,116.27 363.88,116.83 364.46,117.38 365.05,117.91 365.63,118.44 366.22,118.95 366.80,119.45 367.38,119.95 367.97,120.44 368.55,120.91 369.14,121.38 369.72,121.84 370.31,122.29 370.89,122.73 371.48,123.17 372.06,123.60 372.64,124.02 373.23,124.43 373.81,124.84 374.40,125.24 374.98,125.63 375.57,126.01 376.15,126.39 376.74,126.77 377.32,127.13 377.90,127.50 378.49,127.85 379.07,128.20 379.66,128.55 380.24,128.89 380.83,129.22 381.41,129.55 382.00,129.87 382.58,130.19 383.16,130.50 383.75,130.81 384.33,131.12 384.92,131.42 385.50,131.71 386.09,132.01 386.67,132.29 387.26,132.58 387.84,132.86 388.42,133.13 389.01,133.40 389.59,133.67 390.18,133.93 390.76,134.20 391.35,134.45 391.93,134.71 392.52,134.96 393.10,135.20 393.68,135.45 394.27,135.69 394.85,135.92 395.44,136.16 396.02,136.39 396.61,136.62 397.19,136.84 397.78,137.06 398.36,137.28 398.94,137.50 399.53,137.71 400.11,137.93 400.70,138.13 401.28,138.34 401.87,138.54 402.45,138.75 403.04,138.94 403.62,139.14 404.21,139.34 404.79,139.53 405.37,139.72 405.96,139.90 406.54,140.09 407.13,140.27 407.71,140.45 408.30,140.63 408.88,140.81 409.47,140.99 410.05,141.16 410.63,141.33 411.22,141.50 411.80,141.67 412.39,141.83 412.97,142.00 413.56,142.16 414.14,142.32 414.73,142.48 415.31,142.63 415.89,142.79 416.48,142.94 417.06,143.09 417.65,143.24 418.23,143.39 418.82,143.54 419.40,143.69 419.99,143.83 420.57,143.97 421.15,144.12 421.74,144.26 422.32,144.39 422.91,144.53 423.49,144.67 424.08,144.80 424.66,144.93 425.25,145.07 425.83,145.20 426.41,145.33 427.00,145.45 427.58,145.58 428.17,145.71 428.75,145.83 429.34,145.96 429.92,146.08 430.51,146.20 431.09,146.32 431.67,146.44 432.26,146.55 432.84,146.67 433.43,146.79 434.01,146.90 434.60,147.02 435.18,147.13 435.77,147.24 436.35,147.35 436.93,147.46 437.52,147.57 438.10,147.67 438.69,147.78 439.27,147.89 439.86,147.99 440.44,148.10 441.03,148.20 441.61,148.30 442.19,148.40 442.78,148.50 443.36,148.60 443.95,148.70 444.53,148.80 445.12,148.90 445.70,148.99 446.29,149.09 446.87,149.18 447.46,149.28 448.04,149.37 448.62,149.46 449.21,149.55 449.79,149.64 450.38,149.73 450.96,149.82 451.55,149.91 452.13,150.00 452.72,150.09 453.30,150.17 453.88,150.26 454.47,150.34 455.05,150.43 455.64,150.51 456.22,150.60 456.81,150.68 457.39,150.76 457.98,150.84 458.56,150.92 459.14,151.00 459.73,151.08 460.31,151.16 460.90,151.24 461.48,151.32 462.07,151.39 462.65,151.47 463.24,151.55 463.82,151.62 464.40,151.70 464.99,151.77 465.57,151.84 466.16,151.92 466.74,151.99 467.33,152.06 467.91,152.13 468.50,152.21 469.08,152.28 469.66,152.35 470.25,152.42 470.83,152.49 471.42,152.55 472.00,152.62 472.59,152.69 473.17,152.76 473.76,152.82 474.34,152.89 474.92,152.96 475.51,153.02 476.09,153.09 476.68,153.15 477.26,153.21 477.85,153.28 478.43,153.34 479.02,153.40 479.60,153.47 480.18,153.53 480.77,153.59 481.35,153.65 481.94,153.71 482.52,153.77 483.11,153.83 483.69,153.89 484.28,153.95 484.86,154.01 485.45,154.07 486.03,154.13 486.61,154.18 487.20,154.24 487.78,154.30 488.37,154.35 488.95,154.41 489.54,154.47 490.12,154.52 490.71,154.58 491.29,154.63 491.87,154.69 492.46,154.74 493.04,154.79 493.63,154.85 494.21,154.90 494.80,154.95 495.38,155.01 495.97,155.06 496.55,155.11 497.13,155.16 497.72,155.21 498.30,155.26 498.89,155.31 499.47,155.36 500.06,155.41 500.64,155.46 501.23,155.51 501.81,155.56 502.39,155.61 502.98,155.66 503.56,155.71 504.15,155.75 504.73,155.80 505.32,155.85 505.90,155.90 506.49,155.94 507.07,155.99 507.65,156.04 508.24,156.08 508.82,156.13 509.41,156.17 509.99,156.22 510.58,156.26 511.16,156.31 511.75,156.35 512.33,156.40 512.91,156.44 513.50,156.48 514.08,156.53 514.67,156.57 515.25,156.61 515.84,156.66 516.42,156.70 517.01,156.74 517.59,156.78 518.17,156.83 518.76,156.87 519.34,156.91 519.93,156.95 520.51,156.99 521.10,157.03 521.68,157.07 522.27,157.11 522.85,157.15 523.44,157.19 524.02,157.23 524.60,157.27 525.19,157.31 525.77,157.35 526.36,157.39 526.94,157.43 527.53,157.46 528.11,157.50 528.70,157.54 529.28,157.58 529.86,157.61 530.45,157.65 531.03,157.69 531.62,157.73 532.20,157.76 532.79,157.80 533.37,157.84 533.96,157.87 534.54,157.91 535.12,157.94 535.71,157.98 536.29,158.02 536.88,158.05 537.46,158.09 538.05,158.12 538.63,158.16 539.22,158.19 539.80,158.22" fill="none" stroke="#B266C2" stroke-width="1.1"/>
<polyline clip-path="url(#ccas)" points="306.60,-270.75 307.18,-270.75 307.77,-270.75 308.35,-270.75 308.94,-270.75 309.52,-270.75 310.11,-270.75 310.69,-270.75 311.28,-270.75 311.86,-270.75 312.44,-270.75 313.03,-270.75 313.61,-270.75 314.20,-270.75 314.78,-270.75 315.37,-270.75 315.95,-270.75 316.54,-270.75 317.12,-270.75 317.70,-270.75 318.29,-270.75 318.87,-270.75 319.46,-270.75 320.04,-270.75 320.63,-254.50 321.21,-238.96 321.80,-224.51 322.38,-211.05 322.96,-198.47 323.55,-186.68 324.13,-175.62 324.72,-165.23 325.30,-155.43 325.89,-146.19 326.47,-137.45 327.06,-129.19 327.64,-121.35 328.23,-113.90 328.81,-106.83 329.39,-100.09 329.98,-93.68 330.56,-87.56 331.15,-81.71 331.73,-76.12 332.32,-70.77 332.90,-65.65 333.49,-60.74 334.07,-56.02 334.65,-51.49 335.24,-47.14 335.82,-42.96 336.41,-38.93 336.99,-35.05 337.58,-31.31 338.16,-27.70 338.75,-24.22 339.33,-20.85 339.91,-17.60 340.50,-14.46 341.08,-11.42 341.67,-8.47 342.25,-5.62 342.84,-2.86 343.42,-0.18 344.01,2.42 344.59,4.94 345.17,7.38 345.76,9.76 346.34,12.07 346.93,14.31 347.51,16.50 348.10,18.62 348.68,20.69 349.27,22.70 349.85,24.66 350.43,26.56 351.02,28.42 351.60,30.24 352.19,32.00 352.77,33.73 353.36,35.41 353.94,37.05 354.53,38.66 355.11,40.22 355.69,41.75 356.28,43.25 356.86,44.71 357.45,46.14 358.03,47.53 358.62,48.90 359.20,50.24 359.79,51.54 360.37,52.82 360.95,54.08 361.54,55.30 362.12,56.51 362.71,57.68 363.29,58.84 363.88,59.97 364.46,61.08 365.05,62.17 365.63,63.23 366.22,64.28 366.80,65.30 367.38,66.31 367.97,67.30 368.55,68.27 369.14,69.22 369.72,70.16 370.31,71.07 370.89,71.98 371.48,72.86 372.06,73.73 372.64,74.59 373.23,75.43 373.81,76.26 374.40,77.07 374.98,77.87 375.57,78.65 376.15,79.42 376.74,80.18 377.32,80.93 377.90,81.67 378.49,82.39 379.07,83.10 379.66,83.81 380.24,84.50 380.83,85.18 381.41,85.85 382.00,86.50 382.58,87.15 383.16,87.79 383.75,88.42 384.33,89.04 384.92,89.66 385.50,90.26 386.09,90.85 386.67,91.44 387.26,92.01 387.84,92.58 388.42,93.14 389.01,93.70 389.59,94.24 390.18,94.78 390.76,95.31 391.35,95.84 391.93,96.35 392.52,96.86 393.10,97.36 393.68,97.86 394.27,98.35 394.85,98.83 395.44,99.31 396.02,99.78 396.61,100.25 397.19,100.70 397.78,101.16 398.36,101.60 398.94,102.05 399.53,102.48 400.11,102.91 400.70,103.34 401.28,103.76 401.87,104.18 402.45,104.59 403.04,104.99 403.62,105.39 404.21,105.79 404.79,106.18 405.37,106.57 405.96,106.95 406.54,107.33 407.13,107.70 407.71,108.07 408.30,108.43 408.88,108.80 409.47,109.15 410.05,109.51 410.63,109.85 411.22,110.20 411.80,110.54 412.39,110.88 412.97,111.21 413.56,111.54 414.14,111.87 414.73,112.19 415.31,112.51 415.89,112.83 416.48,113.14 417.06,113.45 417.65,113.76 418.23,114.06 418.82,114.37 419.40,114.66 419.99,114.96 420.57,115.25 421.15,115.54 421.74,115.82 422.32,116.11 422.91,116.39 423.49,116.66 424.08,116.94 424.66,117.21 425.25,117.48 425.83,117.74 426.41,118.01 427.00,118.27 427.58,118.53 428.17,118.79 428.75,119.04 429.34,119.29 429.92,119.54 430.51,119.79 431.09,120.03 431.67,120.27 432.26,120.51 432.84,120.75 433.43,120.99 434.01,121.22 434.60,121.45 435.18,121.68 435.77,121.91 436.35,122.14 436.93,122.36 437.52,122.58 438.10,122.80 438.69,123.02 439.27,123.23 439.86,123.45 440.44,123.66 441.03,123.87 441.61,124.08 442.19,124.28 442.78,124.49 443.36,124.69 443.95,124.89 444.53,125.09 445.12,125.29 445.70,125.49 446.29,125.68 446.87,125.88 447.46,126.07 448.04,126.26 448.62,126.45 449.21,126.63 449.79,126.82 450.38,127.00 450.96,127.18 451.55,127.37 452.13,127.54 452.72,127.72 453.30,127.90 453.88,128.07 454.47,128.25 455.05,128.42 455.64,128.59 456.22,128.76 456.81,128.93 457.39,129.10 457.98,129.26 458.56,129.43 459.14,129.59 459.73,129.75 460.31,129.92 460.90,130.08 461.48,130.23 462.07,130.39 462.65,130.55 463.24,130.70 463.82,130.86 464.40,131.01 464.99,131.16 465.57,131.31 466.16,131.46 466.74,131.61 467.33,131.76 467.91,131.90 468.50,132.05 469.08,132.19 469.66,132.34 470.25,132.48 470.83,132.62 471.42,132.76 472.00,132.90 472.59,133.04 473.17,133.18 473.76,133.31 474.34,133.45 474.92,133.58 475.51,133.72 476.09,133.85 476.68,133.98 477.26,134.11 477.85,134.24 478.43,134.37 479.02,134.50 479.60,134.63 480.18,134.75 480.77,134.88 481.35,135.00 481.94,135.13 482.52,135.25 483.11,135.37 483.69,135.49 484.28,135.61 484.86,135.73 485.45,135.85 486.03,135.97 486.61,136.09 487.20,136.21 487.78,136.32 488.37,136.44 488.95,136.55 489.54,136.67 490.12,136.78 490.71,136.89 491.29,137.00 491.87,137.12 492.46,137.23 493.04,137.34 493.63,137.44 494.21,137.55 494.80,137.66 495.38,137.77 495.97,137.87 496.55,137.98 497.13,138.09 497.72,138.19 498.30,138.29 498.89,138.40 499.47,138.50 500.06,138.60 500.64,138.70 501.23,138.80 501.81,138.90 502.39,139.00 502.98,139.10 503.56,139.20 504.15,139.30 504.73,139.40 505.32,139.49 505.90,139.59 506.49,139.68 507.07,139.78 507.65,139.87 508.24,139.97 508.82,140.06 509.41,140.15 509.99,140.25 510.58,140.34 511.16,140.43 511.75,140.52 512.33,140.61 512.91,140.70 513.50,140.79 514.08,140.88 514.67,140.97 515.25,141.05 515.84,141.14 516.42,141.23 517.01,141.31 517.59,141.40 518.17,141.49 518.76,141.57 519.34,141.66 519.93,141.74 520.51,141.82 521.10,141.91 521.68,141.99 522.27,142.07 522.85,142.15 523.44,142.23 524.02,142.31 524.60,142.39 525.19,142.47 525.77,142.55 526.36,142.63 526.94,142.71 527.53,142.79 528.11,142.87 528.70,142.95 529.28,143.02 529.86,143.10 530.45,143.18 531.03,143.25 531.62,143.33 532.20,143.40 532.79,143.48 533.37,143.55 533.96,143.63 534.54,143.70 535.12,143.77 535.71,143.85 536.29,143.92 536.88,143.99 537.46,144.06 538.05,144.13 538.63,144.20 539.22,144.27 539.80,144.35" fill="none" stroke="#84BC62" stroke-width="1.1"/>
<path d="M337.11 182.7v-2.3M337.11 18.7v2.3M438.45 182.7v-2.3M438.45 18.7v2.3M306.6 150.76h2.3M539.8 150.76h-2.3M306.6 116.18h2.3M539.8 116.18h-2.3M306.6 89.36h2.3M539.8 89.36h-2.3M306.6 67.44h2.3M539.8 67.44h-2.3M306.6 48.91h2.3M539.8 48.91h-2.3M306.6 32.86h2.3M539.8 32.86h-2.3M306.6 18.7h2.3M539.8 18.7h-2.3" stroke="#262626" stroke-width="0.9" fill="none"/>
<path d="M306.6 182.7v-1.3M306.6 18.7v1.3M314.62 182.7v-1.3M314.62 18.7v1.3M321.41 182.7v-1.3M321.41 18.7v1.3M327.29 182.7v-1.3M327.29 18.7v1.3M332.47 182.7v-1.3M332.47 18.7v1.3M367.62 182.7v-1.3M367.62 18.7v1.3M385.46 182.7v-1.3M385.46 18.7v1.3M398.12 182.7v-1.3M398.12 18.7v1.3M407.95 182.7v-1.3M407.95 18.7v1.3M415.97 182.7v-1.3M415.97 18.7v1.3M422.76 182.7v-1.3M422.76 18.7v1.3M428.63 182.7v-1.3M428.63 18.7v1.3M433.82 182.7v-1.3M433.82 18.7v1.3M468.96 182.7v-1.3M468.96 18.7v1.3M486.81 182.7v-1.3M486.81 18.7v1.3M499.47 182.7v-1.3M499.47 18.7v1.3M509.29 182.7v-1.3M509.29 18.7v1.3M517.32 182.7v-1.3M517.32 18.7v1.3M524.1 182.7v-1.3M524.1 18.7v1.3M529.98 182.7v-1.3M529.98 18.7v1.3M535.16 182.7v-1.3M535.16 18.7v1.3M306.6 177.58h1.3M539.8 177.58h-1.3M306.6 167.96h1.3M539.8 167.96h-1.3M306.6 159.05h1.3M539.8 159.05h-1.3M306.6 143h1.3M539.8 143h-1.3M306.6 135.72h1.3M539.8 135.72h-1.3M306.6 128.84h1.3M539.8 128.84h-1.3M306.6 122.35h1.3M539.8 122.35h-1.3M306.6 110.31h1.3M539.8 110.31h-1.3M306.6 104.72h1.3M539.8 104.72h-1.3M306.6 99.38h1.3M539.8 99.38h-1.3M306.6 94.26h1.3M539.8 94.26h-1.3M306.6 84.64h1.3M539.8 84.64h-1.3M306.6 80.1h1.3M539.8 80.1h-1.3M306.6 75.73h1.3M539.8 75.73h-1.3M306.6 71.51h1.3M539.8 71.51h-1.3M306.6 63.5h1.3M539.8 63.5h-1.3M306.6 59.68h1.3M539.8 59.68h-1.3M306.6 55.98h1.3M539.8 55.98h-1.3M306.6 52.39h1.3M539.8 52.39h-1.3M306.6 45.52h1.3M539.8 45.52h-1.3M306.6 42.23h1.3M539.8 42.23h-1.3M306.6 39.02h1.3M539.8 39.02h-1.3M306.6 35.9h1.3M539.8 35.9h-1.3M306.6 29.89h1.3M539.8 29.89h-1.3M306.6 26.99h1.3M539.8 26.99h-1.3M306.6 24.16h1.3M539.8 24.16h-1.3M306.6 21.4h1.3M539.8 21.4h-1.3" stroke="#777" stroke-width="0.6" fill="none"/>
<rect x="306.6" y="18.7" width="233.2" height="164" fill="none" stroke="#5a5a5a" stroke-width="1.3"/>
<text class="tk" x="301.7" y="154.71" text-anchor="end" font-size="9.8" textLength="14.5" lengthAdjust="spacingAndGlyphs">300</text>
<text class="tk" x="301.7" y="120.13" text-anchor="end" font-size="9.8" textLength="14.5" lengthAdjust="spacingAndGlyphs">400</text>
<text class="tk" x="301.7" y="93.31" text-anchor="end" font-size="9.8" textLength="14.5" lengthAdjust="spacingAndGlyphs">500</text>
<text class="tk" x="301.7" y="71.39" text-anchor="end" font-size="9.8" textLength="14.5" lengthAdjust="spacingAndGlyphs">600</text>
<text class="tk" x="301.7" y="52.86" text-anchor="end" font-size="9.8" textLength="14.5" lengthAdjust="spacingAndGlyphs">700</text>
<text class="tk" x="301.7" y="36.81" text-anchor="end" font-size="9.8" textLength="14.5" lengthAdjust="spacingAndGlyphs">800</text>
<text class="tk" x="301.7" y="22.65" text-anchor="end" font-size="9.8" textLength="14.5" lengthAdjust="spacingAndGlyphs">900</text>
<text class="tk" x="330.21" y="199.1" font-size="9.8" textLength="9.6" lengthAdjust="spacingAndGlyphs">10</text><text class="tk" x="340.41" y="194.6" font-size="7.8">4</text>
<text class="tk" x="431.55" y="199.1" font-size="9.8" textLength="9.6" lengthAdjust="spacingAndGlyphs">10</text><text class="tk" x="441.75" y="194.6" font-size="7.8">5</text>
<text class="tk" x="532.9" y="199.1" font-size="9.8" textLength="9.6" lengthAdjust="spacingAndGlyphs">10</text><text class="tk" x="543.1" y="194.6" font-size="7.8">6</text>
<text class="sr" x="423.2" y="213.2" font-size="11.3" text-anchor="middle">Cycles</text>
<text class="sr" x="423.2" y="13.1" font-size="11.2" font-weight="bold" text-anchor="middle">Castillo</text>
<rect x="408.4" y="23" width="128" height="71.8" fill="#fff" stroke="#383838" stroke-width="1"/>
<circle cx="425.9" cy="31.6" r="2.9" fill="#0A78C8"/>
<text class="sr" x="442" y="35.4" font-size="11.45">Avibulb Single Lap</text>
<circle cx="425.9" cy="45.6" r="2.9" fill="#FF4D0D"/>
<text class="sr" x="442" y="49.4" font-size="11.45">Avibulb Coach Peel</text>
<path d="M411.9 59.5H439.9" stroke="#F6BC4C" stroke-width="1.1"/>
<text class="sr" x="442" y="63.3" font-size="11.45">Prob. 50 %</text>
<path d="M411.9 73.4H439.9" stroke="#B266C2" stroke-width="1.1"/>
<text class="sr" x="442" y="77.2" font-size="11.45">Prob. 95 %</text>
<path d="M411.9 87.3H439.9" stroke="#84BC62" stroke-width="1.1"/>
<text class="sr" x="442" y="91.1" font-size="11.45">Prob. 5 %</text>
<path d="M181.72 248V412M188.51 248V412M194.39 248V412M199.57 248V412M234.72 248V412M252.56 248V412M265.22 248V412M275.05 248V412M283.07 248V412M289.86 248V412M295.73 248V412M300.92 248V412M336.06 248V412M353.91 248V412M366.57 248V412M376.39 248V412M384.42 248V412M391.2 248V412M397.08 248V412M402.26 248V412M173.7 406.88H406.9M173.7 397.26H406.9M173.7 388.35H406.9M173.7 372.3H406.9M173.7 365.02H406.9M173.7 358.14H406.9M173.7 351.65H406.9M173.7 339.61H406.9M173.7 334.02H406.9M173.7 328.68H406.9M173.7 323.56H406.9M173.7 313.94H406.9M173.7 309.4H406.9M173.7 305.03H406.9M173.7 300.81H406.9M173.7 292.8H406.9M173.7 288.98H406.9M173.7 285.28H406.9M173.7 281.69H406.9M173.7 274.82H406.9M173.7 271.53H406.9M173.7 268.32H406.9M173.7 265.2H406.9M173.7 259.19H406.9M173.7 256.29H406.9M173.7 253.46H406.9M173.7 250.7H406.9" stroke="#d8d8d8" stroke-width="0.7" stroke-dasharray="1 2" fill="none"/>
<path d="M204.21 248V412M305.55 248V412M173.7 380.06H406.9M173.7 345.48H406.9M173.7 318.66H406.9M173.7 296.74H406.9M173.7 278.21H406.9M173.7 262.16H406.9M173.7 248H406.9" stroke="#e6e6e6" stroke-width="1" fill="none"/>
<circle cx="187.9" cy="267.2" r="3" fill="#FF4D0D"/>
<circle cx="202.9" cy="267.2" r="3" fill="#FF4D0D"/>
<circle cx="204.3" cy="267.2" r="3" fill="#FF4D0D"/>
<circle cx="214.2" cy="293.4" r="3" fill="#FF4D0D"/>
<circle cx="220" cy="293.4" r="3" fill="#FF4D0D"/>
<circle cx="222.5" cy="293.4" r="3" fill="#FF4D0D"/>
<circle cx="239.7" cy="316.2" r="3" fill="#FF4D0D"/>
<circle cx="244.7" cy="316.2" r="3" fill="#FF4D0D"/>
<circle cx="249.7" cy="316.2" r="3" fill="#FF4D0D"/>
<circle cx="307.2" cy="357.5" r="3" fill="#FF4D0D"/>
<circle cx="319.5" cy="357.5" r="3" fill="#FF4D0D"/>
<circle cx="319.5" cy="370.9" r="3" fill="#0A78C8"/>
<circle cx="351.5" cy="373.1" r="3" fill="#0A78C8"/>
<circle cx="371.4" cy="373.1" r="3" fill="#0A78C8"/>
<clipPath id="cst"><rect x="173.7" y="248" width="233.2" height="164"/></clipPath>
<polyline clip-path="url(#cst)" points="173.70,242.19 174.28,242.84 174.87,243.49 175.45,244.14 176.04,244.79 176.62,245.45 177.21,246.10 177.79,246.76 178.38,247.42 178.96,248.08 179.54,248.74 180.13,249.40 180.71,250.06 181.30,250.72 181.88,251.39 182.47,252.05 183.05,252.72 183.64,253.39 184.22,254.06 184.80,254.72 185.39,255.39 185.97,256.07 186.56,256.74 187.14,257.41 187.73,258.08 188.31,258.75 188.90,259.43 189.48,260.10 190.06,260.78 190.65,261.45 191.23,262.13 191.82,262.80 192.40,263.48 192.99,264.16 193.57,264.83 194.16,265.51 194.74,266.19 195.33,266.86 195.91,267.54 196.49,268.22 197.08,268.89 197.66,269.57 198.25,270.25 198.83,270.92 199.42,271.60 200.00,272.27 200.59,272.95 201.17,273.62 201.75,274.30 202.34,274.97 202.92,275.65 203.51,276.32 204.09,276.99 204.68,277.66 205.26,278.33 205.85,279.00 206.43,279.67 207.01,280.34 207.60,281.01 208.18,281.67 208.77,282.34 209.35,283.00 209.94,283.67 210.52,284.33 211.11,284.99 211.69,285.65 212.27,286.31 212.86,286.97 213.44,287.62 214.03,288.28 214.61,288.93 215.20,289.59 215.78,290.24 216.37,290.89 216.95,291.53 217.53,292.18 218.12,292.82 218.70,293.47 219.29,294.11 219.87,294.75 220.46,295.39 221.04,296.02 221.63,296.66 222.21,297.29 222.79,297.92 223.38,298.55 223.96,299.17 224.55,299.80 225.13,300.42 225.72,301.04 226.30,301.66 226.89,302.28 227.47,302.89 228.05,303.50 228.64,304.11 229.22,304.72 229.81,305.33 230.39,305.93 230.98,306.53 231.56,307.13 232.15,307.72 232.73,308.32 233.32,308.91 233.90,309.50 234.48,310.08 235.07,310.66 235.65,311.25 236.24,311.82 236.82,312.40 237.41,312.97 237.99,313.54 238.58,314.11 239.16,314.68 239.74,315.24 240.33,315.80 240.91,316.36 241.50,316.91 242.08,317.46 242.67,318.01 243.25,318.56 243.84,319.10 244.42,319.64 245.00,320.18 245.59,320.71 246.17,321.24 246.76,321.77 247.34,322.30 247.93,322.82 248.51,323.34 249.10,323.86 249.68,324.37 250.26,324.88 250.85,325.39 251.43,325.89 252.02,326.39 252.60,326.89 253.19,327.39 253.77,327.88 254.36,328.37 254.94,328.86 255.52,329.34 256.11,329.82 256.69,330.30 257.28,330.77 257.86,331.24 258.45,331.71 259.03,332.18 259.62,332.64 260.20,333.10 260.78,333.55 261.37,334.01 261.95,334.46 262.54,334.90 263.12,335.35 263.71,335.79 264.29,336.22 264.88,336.66 265.46,337.09 266.04,337.52 266.63,337.94 267.21,338.36 267.80,338.78 268.38,339.20 268.97,339.61 269.55,340.02 270.14,340.42 270.72,340.83 271.31,341.23 271.89,341.62 272.47,342.02 273.06,342.41 273.64,342.79 274.23,343.18 274.81,343.56 275.40,343.94 275.98,344.31 276.57,344.69 277.15,345.05 277.73,345.42 278.32,345.78 278.90,346.14 279.49,346.50 280.07,346.86 280.66,347.21 281.24,347.56 281.83,347.90 282.41,348.24 282.99,348.58 283.58,348.92 284.16,349.25 284.75,349.58 285.33,349.91 285.92,350.24 286.50,350.56 287.09,350.88 287.67,351.20 288.25,351.51 288.84,351.82 289.42,352.13 290.01,352.44 290.59,352.74 291.18,353.04 291.76,353.34 292.35,353.63 292.93,353.92 293.51,354.21 294.10,354.50 294.68,354.78 295.27,355.06 295.85,355.34 296.44,355.62 297.02,355.89 297.61,356.16 298.19,356.43 298.77,356.69 299.36,356.96 299.94,357.22 300.53,357.48 301.11,357.73 301.70,357.98 302.28,358.24 302.87,358.48 303.45,358.73 304.03,358.97 304.62,359.21 305.20,359.45 305.79,359.69 306.37,359.92 306.96,360.15 307.54,360.38 308.13,360.61 308.71,360.83 309.29,361.06 309.88,361.28 310.46,361.49 311.05,361.71 311.63,361.92 312.22,362.13 312.80,362.34 313.39,362.55 313.97,362.76 314.56,362.96 315.14,363.16 315.72,363.36 316.31,363.55 316.89,363.75 317.48,363.94 318.06,364.13 318.65,364.32 319.23,364.51 319.82,364.69 320.40,364.87 320.98,365.05 321.57,365.23 322.15,365.41 322.74,365.58 323.32,365.76 323.91,365.93 324.49,366.10 325.08,366.26 325.66,366.43 326.24,366.59 326.83,366.75 327.41,366.91 328.00,367.07 328.58,367.23 329.17,367.39 329.75,367.54 330.34,367.69 330.92,367.84 331.50,367.99 332.09,368.14 332.67,368.28 333.26,368.42 333.84,368.57 334.43,368.71 335.01,368.85 335.60,368.98 336.18,369.12 336.76,369.25 337.35,369.39 337.93,369.52 338.52,369.65 339.10,369.77 339.69,369.90 340.27,370.03 340.86,370.15 341.44,370.27 342.02,370.39 342.61,370.51 343.19,370.63 343.78,370.75 344.36,370.87 344.95,370.98 345.53,371.09 346.12,371.21 346.70,371.32 347.28,371.43 347.87,371.53 348.45,371.64 349.04,371.75 349.62,371.85 350.21,371.95 350.79,372.06 351.38,372.16 351.96,372.26 352.55,372.35 353.13,372.45 353.71,372.55 354.30,372.64 354.88,372.74 355.47,372.83 356.05,372.92 356.64,373.01 357.22,373.10 357.81,373.19 358.39,373.28 358.97,373.37 359.56,373.45 360.14,373.54 360.73,373.62 361.31,373.70 361.90,373.78 362.48,373.86 363.07,373.94 363.65,374.02 364.23,374.10 364.82,374.18 365.40,374.25 365.99,374.33 366.57,374.40 367.16,374.48 367.74,374.55 368.33,374.62 368.91,374.69 369.49,374.76 370.08,374.83 370.66,374.90 371.25,374.96 371.83,375.03 372.42,375.10 373.00,375.16 373.59,375.23 374.17,375.29 374.75,375.35 375.34,375.41 375.92,375.48 376.51,375.54 377.09,375.60 377.68,375.65 378.26,375.71 378.85,375.77 379.43,375.83 380.01,375.88 380.60,375.94 381.18,375.99 381.77,376.05 382.35,376.10 382.94,376.15 383.52,376.21 384.11,376.26 384.69,376.31 385.27,376.36 385.86,376.41 386.44,376.46 387.03,376.51 387.61,376.56 388.20,376.60 388.78,376.65 389.37,376.70 389.95,376.74 390.54,376.79 391.12,376.83 391.70,376.87 392.29,376.92 392.87,376.96 393.46,377.00 394.04,377.05 394.63,377.09 395.21,377.13 395.80,377.17 396.38,377.21 396.96,377.25 397.55,377.29 398.13,377.32 398.72,377.36 399.30,377.40 399.89,377.44 400.47,377.47 401.06,377.51 401.64,377.55 402.22,377.58 402.81,377.62 403.39,377.65 403.98,377.68 404.56,377.72 405.15,377.75 405.73,377.78 406.32,377.82 406.90,377.85" fill="none" stroke="#F6BC4C" stroke-width="1.1"/>
<polyline clip-path="url(#cst)" points="173.70,248.96 174.28,249.60 174.87,250.25 175.45,250.90 176.04,251.56 176.62,252.21 177.21,252.87 177.79,253.52 178.38,254.18 178.96,254.84 179.54,255.50 180.13,256.17 180.71,256.83 181.30,257.50 181.88,258.16 182.47,258.83 183.05,259.50 183.64,260.17 184.22,260.84 184.80,261.51 185.39,262.18 185.97,262.86 186.56,263.53 187.14,264.21 187.73,264.88 188.31,265.56 188.90,266.24 189.48,266.91 190.06,267.59 190.65,268.27 191.23,268.95 191.82,269.63 192.40,270.31 192.99,270.99 193.57,271.67 194.16,272.35 194.74,273.03 195.33,273.72 195.91,274.40 196.49,275.08 197.08,275.76 197.66,276.44 198.25,277.12 198.83,277.81 199.42,278.49 200.00,279.17 200.59,279.85 201.17,280.53 201.75,281.21 202.34,281.89 202.92,282.57 203.51,283.25 204.09,283.93 204.68,284.60 205.26,285.28 205.85,285.96 206.43,286.63 207.01,287.31 207.60,287.98 208.18,288.65 208.77,289.33 209.35,290.00 209.94,290.67 210.52,291.34 211.11,292.01 211.69,292.67 212.27,293.34 212.86,294.00 213.44,294.67 214.03,295.33 214.61,295.99 215.20,296.65 215.78,297.31 216.37,297.96 216.95,298.62 217.53,299.27 218.12,299.92 218.70,300.57 219.29,301.22 219.87,301.87 220.46,302.52 221.04,303.16 221.63,303.80 222.21,304.44 222.79,305.08 223.38,305.72 223.96,306.35 224.55,306.98 225.13,307.61 225.72,308.24 226.30,308.87 226.89,309.49 227.47,310.11 228.05,310.73 228.64,311.35 229.22,311.96 229.81,312.58 230.39,313.19 230.98,313.79 231.56,314.40 232.15,315.00 232.73,315.60 233.32,316.20 233.90,316.80 234.48,317.39 235.07,317.98 235.65,318.57 236.24,319.16 236.82,319.74 237.41,320.32 237.99,320.90 238.58,321.47 239.16,322.04 239.74,322.61 240.33,323.18 240.91,323.74 241.50,324.31 242.08,324.86 242.67,325.42 243.25,325.97 243.84,326.52 244.42,327.07 245.00,327.61 245.59,328.15 246.17,328.69 246.76,329.23 247.34,329.76 247.93,330.29 248.51,330.81 249.10,331.34 249.68,331.86 250.26,332.37 250.85,332.89 251.43,333.40 252.02,333.91 252.60,334.41 253.19,334.91 253.77,335.41 254.36,335.91 254.94,336.40 255.52,336.89 256.11,337.37 256.69,337.86 257.28,338.34 257.86,338.81 258.45,339.29 259.03,339.76 259.62,340.22 260.20,340.69 260.78,341.15 261.37,341.61 261.95,342.06 262.54,342.51 263.12,342.96 263.71,343.40 264.29,343.85 264.88,344.28 265.46,344.72 266.04,345.15 266.63,345.58 267.21,346.01 267.80,346.43 268.38,346.85 268.97,347.26 269.55,347.68 270.14,348.09 270.72,348.49 271.31,348.90 271.89,349.30 272.47,349.69 273.06,350.09 273.64,350.48 274.23,350.87 274.81,351.25 275.40,351.63 275.98,352.01 276.57,352.39 277.15,352.76 277.73,353.13 278.32,353.50 278.90,353.86 279.49,354.22 280.07,354.58 280.66,354.93 281.24,355.28 281.83,355.63 282.41,355.97 282.99,356.32 283.58,356.65 284.16,356.99 284.75,357.32 285.33,357.65 285.92,357.98 286.50,358.31 287.09,358.63 287.67,358.95 288.25,359.26 288.84,359.57 289.42,359.88 290.01,360.19 290.59,360.49 291.18,360.80 291.76,361.10 292.35,361.39 292.93,361.68 293.51,361.97 294.10,362.26 294.68,362.55 295.27,362.83 295.85,363.11 296.44,363.39 297.02,363.66 297.61,363.93 298.19,364.20 298.77,364.47 299.36,364.73 299.94,364.99 300.53,365.25 301.11,365.51 301.70,365.76 302.28,366.01 302.87,366.26 303.45,366.51 304.03,366.75 304.62,366.99 305.20,367.23 305.79,367.47 306.37,367.70 306.96,367.93 307.54,368.16 308.13,368.39 308.71,368.61 309.29,368.84 309.88,369.06 310.46,369.27 311.05,369.49 311.63,369.70 312.22,369.91 312.80,370.12 313.39,370.33 313.97,370.53 314.56,370.74 315.14,370.94 315.72,371.13 316.31,371.33 316.89,371.52 317.48,371.72 318.06,371.91 318.65,372.09 319.23,372.28 319.82,372.46 320.40,372.64 320.98,372.82 321.57,373.00 322.15,373.18 322.74,373.35 323.32,373.52 323.91,373.69 324.49,373.86 325.08,374.03 325.66,374.19 326.24,374.36 326.83,374.52 327.41,374.68 328.00,374.84 328.58,374.99 329.17,375.15 329.75,375.30 330.34,375.45 330.92,375.60 331.50,375.75 332.09,375.89 332.67,376.04 333.26,376.18 333.84,376.32 334.43,376.46 335.01,376.60 335.60,376.73 336.18,376.87 336.76,377.00 337.35,377.13 337.93,377.26 338.52,377.39 339.10,377.52 339.69,377.64 340.27,377.77 340.86,377.89 341.44,378.01 342.02,378.13 342.61,378.25 343.19,378.37 343.78,378.48 344.36,378.60 344.95,378.71 345.53,378.82 346.12,378.93 346.70,379.04 347.28,379.15 347.87,379.26 348.45,379.36 349.04,379.47 349.62,379.57 350.21,379.67 350.79,379.77 351.38,379.87 351.96,379.97 352.55,380.07 353.13,380.16 353.71,380.26 354.30,380.35 354.88,380.44 355.47,380.54 356.05,380.63 356.64,380.72 357.22,380.80 357.81,380.89 358.39,380.98 358.97,381.06 359.56,381.15 360.14,381.23 360.73,381.31 361.31,381.39 361.90,381.47 362.48,381.55 363.07,381.63 363.65,381.71 364.23,381.78 364.82,381.86 365.40,381.93 365.99,382.01 366.57,382.08 367.16,382.15 367.74,382.22 368.33,382.29 368.91,382.36 369.49,382.43 370.08,382.50 370.66,382.57 371.25,382.63 371.83,382.70 372.42,382.76 373.00,382.83 373.59,382.89 374.17,382.95 374.75,383.01 375.34,383.07 375.92,383.13 376.51,383.19 377.09,383.25 377.68,383.31 378.26,383.37 378.85,383.42 379.43,383.48 380.01,383.53 380.60,383.59 381.18,383.64 381.77,383.69 382.35,383.75 382.94,383.80 383.52,383.85 384.11,383.90 384.69,383.95 385.27,384.00 385.86,384.05 386.44,384.09 387.03,384.14 387.61,384.19 388.20,384.23 388.78,384.28 389.37,384.32 389.95,384.37 390.54,384.41 391.12,384.46 391.70,384.50 392.29,384.54 392.87,384.58 393.46,384.62 394.04,384.67 394.63,384.71 395.21,384.75 395.80,384.78 396.38,384.82 396.96,384.86 397.55,384.90 398.13,384.94 398.72,384.97 399.30,385.01 399.89,385.05 400.47,385.08 401.06,385.12 401.64,385.15 402.22,385.19 402.81,385.22 403.39,385.25 403.98,385.29 404.56,385.32 405.15,385.35 405.73,385.38 406.32,385.41 406.90,385.44" fill="none" stroke="#B266C2" stroke-width="1.1"/>
<polyline clip-path="url(#cst)" points="173.70,232.38 174.28,233.06 174.87,233.74 175.45,234.43 176.04,235.11 176.62,235.80 177.21,236.49 177.79,237.18 178.38,237.86 178.96,238.55 179.54,239.25 180.13,239.94 180.71,240.63 181.30,241.32 181.88,242.02 182.47,242.71 183.05,243.41 183.64,244.10 184.22,244.80 184.80,245.49 185.39,246.19 185.97,246.89 186.56,247.58 187.14,248.28 187.73,248.98 188.31,249.68 188.90,250.38 189.48,251.07 190.06,251.77 190.65,252.47 191.23,253.17 191.82,253.87 192.40,254.56 192.99,255.26 193.57,255.96 194.16,256.66 194.74,257.35 195.33,258.05 195.91,258.75 196.49,259.44 197.08,260.14 197.66,260.83 198.25,261.53 198.83,262.22 199.42,262.91 200.00,263.61 200.59,264.30 201.17,264.99 201.75,265.68 202.34,266.37 202.92,267.05 203.51,267.74 204.09,268.43 204.68,269.11 205.26,269.80 205.85,270.48 206.43,271.16 207.01,271.84 207.60,272.52 208.18,273.20 208.77,273.88 209.35,274.55 209.94,275.23 210.52,275.90 211.11,276.57 211.69,277.24 212.27,277.91 212.86,278.57 213.44,279.24 214.03,279.90 214.61,280.56 215.20,281.22 215.78,281.88 216.37,282.54 216.95,283.19 217.53,283.85 218.12,284.50 218.70,285.14 219.29,285.79 219.87,286.44 220.46,287.08 221.04,287.72 221.63,288.36 222.21,289.00 222.79,289.63 223.38,290.26 223.96,290.89 224.55,291.52 225.13,292.15 225.72,292.77 226.30,293.39 226.89,294.01 227.47,294.62 228.05,295.24 228.64,295.85 229.22,296.46 229.81,297.06 230.39,297.67 230.98,298.27 231.56,298.87 232.15,299.46 232.73,300.06 233.32,300.65 233.90,301.24 234.48,301.82 235.07,302.41 235.65,302.99 236.24,303.56 236.82,304.14 237.41,304.71 237.99,305.28 238.58,305.85 239.16,306.41 239.74,306.97 240.33,307.53 240.91,308.08 241.50,308.63 242.08,309.18 242.67,309.73 243.25,310.27 243.84,310.81 244.42,311.35 245.00,311.88 245.59,312.42 246.17,312.94 246.76,313.47 247.34,313.99 247.93,314.51 248.51,315.03 249.10,315.54 249.68,316.05 250.26,316.56 250.85,317.06 251.43,317.56 252.02,318.06 252.60,318.56 253.19,319.05 253.77,319.54 254.36,320.02 254.94,320.50 255.52,320.98 256.11,321.46 256.69,321.93 257.28,322.40 257.86,322.87 258.45,323.33 259.03,323.79 259.62,324.25 260.20,324.70 260.78,325.16 261.37,325.60 261.95,326.05 262.54,326.49 263.12,326.93 263.71,327.36 264.29,327.80 264.88,328.23 265.46,328.65 266.04,329.07 266.63,329.49 267.21,329.91 267.80,330.32 268.38,330.73 268.97,331.14 269.55,331.55 270.14,331.95 270.72,332.35 271.31,332.74 271.89,333.13 272.47,333.52 273.06,333.91 273.64,334.29 274.23,334.67 274.81,335.05 275.40,335.42 275.98,335.79 276.57,336.16 277.15,336.52 277.73,336.88 278.32,337.24 278.90,337.60 279.49,337.95 280.07,338.30 280.66,338.65 281.24,338.99 281.83,339.33 282.41,339.67 282.99,340.01 283.58,340.34 284.16,340.67 284.75,341.00 285.33,341.32 285.92,341.64 286.50,341.96 287.09,342.27 287.67,342.59 288.25,342.90 288.84,343.20 289.42,343.51 290.01,343.81 290.59,344.11 291.18,344.40 291.76,344.70 292.35,344.99 292.93,345.28 293.51,345.56 294.10,345.84 294.68,346.13 295.27,346.40 295.85,346.68 296.44,346.95 297.02,347.22 297.61,347.49 298.19,347.75 298.77,348.01 299.36,348.27 299.94,348.53 300.53,348.79 301.11,349.04 301.70,349.29 302.28,349.54 302.87,349.78 303.45,350.02 304.03,350.27 304.62,350.50 305.20,350.74 305.79,350.97 306.37,351.20 306.96,351.43 307.54,351.66 308.13,351.88 308.71,352.11 309.29,352.33 309.88,352.54 310.46,352.76 311.05,352.97 311.63,353.18 312.22,353.39 312.80,353.60 313.39,353.80 313.97,354.01 314.56,354.21 315.14,354.41 315.72,354.60 316.31,354.80 316.89,354.99 317.48,355.18 318.06,355.37 318.65,355.56 319.23,355.74 319.82,355.92 320.40,356.10 320.98,356.28 321.57,356.46 322.15,356.63 322.74,356.81 323.32,356.98 323.91,357.15 324.49,357.32 325.08,357.48 325.66,357.65 326.24,357.81 326.83,357.97 327.41,358.13 328.00,358.29 328.58,358.44 329.17,358.60 329.75,358.75 330.34,358.90 330.92,359.05 331.50,359.20 332.09,359.34 332.67,359.49 333.26,359.63 333.84,359.77 334.43,359.91 335.01,360.05 335.60,360.18 336.18,360.32 336.76,360.45 337.35,360.58 337.93,360.72 338.52,360.84 339.10,360.97 339.69,361.10 340.27,361.22 340.86,361.35 341.44,361.47 342.02,361.59 342.61,361.71 343.19,361.83 343.78,361.94 344.36,362.06 344.95,362.17 345.53,362.29 346.12,362.40 346.70,362.51 347.28,362.62 347.87,362.73 348.45,362.83 349.04,362.94 349.62,363.04 350.21,363.14 350.79,363.25 351.38,363.35 351.96,363.45 352.55,363.55 353.13,363.64 353.71,363.74 354.30,363.83 354.88,363.93 355.47,364.02 356.05,364.11 356.64,364.20 357.22,364.29 357.81,364.38 358.39,364.47 358.97,364.56 359.56,364.64 360.14,364.73 360.73,364.81 361.31,364.89 361.90,364.97 362.48,365.06 363.07,365.14 363.65,365.21 364.23,365.29 364.82,365.37 365.40,365.45 365.99,365.52 366.57,365.60 367.16,365.67 367.74,365.74 368.33,365.81 368.91,365.88 369.49,365.96 370.08,366.02 370.66,366.09 371.25,366.16 371.83,366.23 372.42,366.29 373.00,366.36 373.59,366.42 374.17,366.49 374.75,366.55 375.34,366.61 375.92,366.67 376.51,366.74 377.09,366.80 377.68,366.86 378.26,366.91 378.85,366.97 379.43,367.03 380.01,367.09 380.60,367.14 381.18,367.20 381.77,367.25 382.35,367.31 382.94,367.36 383.52,367.41 384.11,367.46 384.69,367.52 385.27,367.57 385.86,367.62 386.44,367.67 387.03,367.72 387.61,367.76 388.20,367.81 388.78,367.86 389.37,367.91 389.95,367.95 390.54,368.00 391.12,368.04 391.70,368.09 392.29,368.13 392.87,368.18 393.46,368.22 394.04,368.26 394.63,368.30 395.21,368.34 395.80,368.38 396.38,368.43 396.96,368.47 397.55,368.50 398.13,368.54 398.72,368.58 399.30,368.62 399.89,368.66 400.47,368.70 401.06,368.73 401.64,368.77 402.22,368.80 402.81,368.84 403.39,368.87 403.98,368.91 404.56,368.94 405.15,368.98 405.73,369.01 406.32,369.04 406.90,369.08" fill="none" stroke="#84BC62" stroke-width="1.1"/>
<path d="M204.21 412v-2.3M204.21 248v2.3M305.55 412v-2.3M305.55 248v2.3M173.7 380.06h2.3M406.9 380.06h-2.3M173.7 345.48h2.3M406.9 345.48h-2.3M173.7 318.66h2.3M406.9 318.66h-2.3M173.7 296.74h2.3M406.9 296.74h-2.3M173.7 278.21h2.3M406.9 278.21h-2.3M173.7 262.16h2.3M406.9 262.16h-2.3M173.7 248h2.3M406.9 248h-2.3" stroke="#262626" stroke-width="0.9" fill="none"/>
<path d="M173.7 412v-1.3M173.7 248v1.3M181.72 412v-1.3M181.72 248v1.3M188.51 412v-1.3M188.51 248v1.3M194.39 412v-1.3M194.39 248v1.3M199.57 412v-1.3M199.57 248v1.3M234.72 412v-1.3M234.72 248v1.3M252.56 412v-1.3M252.56 248v1.3M265.22 412v-1.3M265.22 248v1.3M275.05 412v-1.3M275.05 248v1.3M283.07 412v-1.3M283.07 248v1.3M289.86 412v-1.3M289.86 248v1.3M295.73 412v-1.3M295.73 248v1.3M300.92 412v-1.3M300.92 248v1.3M336.06 412v-1.3M336.06 248v1.3M353.91 412v-1.3M353.91 248v1.3M366.57 412v-1.3M366.57 248v1.3M376.39 412v-1.3M376.39 248v1.3M384.42 412v-1.3M384.42 248v1.3M391.2 412v-1.3M391.2 248v1.3M397.08 412v-1.3M397.08 248v1.3M402.26 412v-1.3M402.26 248v1.3M173.7 406.88h1.3M406.9 406.88h-1.3M173.7 397.26h1.3M406.9 397.26h-1.3M173.7 388.35h1.3M406.9 388.35h-1.3M173.7 372.3h1.3M406.9 372.3h-1.3M173.7 365.02h1.3M406.9 365.02h-1.3M173.7 358.14h1.3M406.9 358.14h-1.3M173.7 351.65h1.3M406.9 351.65h-1.3M173.7 339.61h1.3M406.9 339.61h-1.3M173.7 334.02h1.3M406.9 334.02h-1.3M173.7 328.68h1.3M406.9 328.68h-1.3M173.7 323.56h1.3M406.9 323.56h-1.3M173.7 313.94h1.3M406.9 313.94h-1.3M173.7 309.4h1.3M406.9 309.4h-1.3M173.7 305.03h1.3M406.9 305.03h-1.3M173.7 300.81h1.3M406.9 300.81h-1.3M173.7 292.8h1.3M406.9 292.8h-1.3M173.7 288.98h1.3M406.9 288.98h-1.3M173.7 285.28h1.3M406.9 285.28h-1.3M173.7 281.69h1.3M406.9 281.69h-1.3M173.7 274.82h1.3M406.9 274.82h-1.3M173.7 271.53h1.3M406.9 271.53h-1.3M173.7 268.32h1.3M406.9 268.32h-1.3M173.7 265.2h1.3M406.9 265.2h-1.3M173.7 259.19h1.3M406.9 259.19h-1.3M173.7 256.29h1.3M406.9 256.29h-1.3M173.7 253.46h1.3M406.9 253.46h-1.3M173.7 250.7h1.3M406.9 250.7h-1.3" stroke="#777" stroke-width="0.6" fill="none"/>
<rect x="173.7" y="248" width="233.2" height="164" fill="none" stroke="#5a5a5a" stroke-width="1.3"/>
<text class="tk" x="168.8" y="384.01" text-anchor="end" font-size="9.8" textLength="14.5" lengthAdjust="spacingAndGlyphs">300</text>
<text class="tk" x="168.8" y="349.43" text-anchor="end" font-size="9.8" textLength="14.5" lengthAdjust="spacingAndGlyphs">400</text>
<text class="tk" x="168.8" y="322.61" text-anchor="end" font-size="9.8" textLength="14.5" lengthAdjust="spacingAndGlyphs">500</text>
<text class="tk" x="168.8" y="300.69" text-anchor="end" font-size="9.8" textLength="14.5" lengthAdjust="spacingAndGlyphs">600</text>
<text class="tk" x="168.8" y="282.16" text-anchor="end" font-size="9.8" textLength="14.5" lengthAdjust="spacingAndGlyphs">700</text>
<text class="tk" x="168.8" y="266.11" text-anchor="end" font-size="9.8" textLength="14.5" lengthAdjust="spacingAndGlyphs">800</text>
<text class="tk" x="168.8" y="251.95" text-anchor="end" font-size="9.8" textLength="14.5" lengthAdjust="spacingAndGlyphs">900</text>
<text class="tk" x="197.31" y="428.4" font-size="9.8" textLength="9.6" lengthAdjust="spacingAndGlyphs">10</text><text class="tk" x="207.51" y="423.9" font-size="7.8">4</text>
<text class="tk" x="298.65" y="428.4" font-size="9.8" textLength="9.6" lengthAdjust="spacingAndGlyphs">10</text><text class="tk" x="308.85" y="423.9" font-size="7.8">5</text>
<text class="tk" x="400" y="428.4" font-size="9.8" textLength="9.6" lengthAdjust="spacingAndGlyphs">10</text><text class="tk" x="410.2" y="423.9" font-size="7.8">6</text>
<text class="sr" x="290.3" y="442.5" font-size="11.3" text-anchor="middle">Cycles</text>
<text class="sr" x="290.3" y="242.4" font-size="11.2" font-weight="bold" text-anchor="middle">Stüssi</text>
<text class="sr" transform="translate(147.8 330.6) rotate(-90)" x="0" y="0" font-size="11.7" text-anchor="middle">Δ<tspan font-style="italic">σ</tspan> (MPa)</text>
<rect x="275.9" y="252.2" width="127.6" height="72.2" fill="#fff" stroke="#383838" stroke-width="1"/>
<circle cx="293.4" cy="260.8" r="2.9" fill="#0A78C8"/>
<text class="sr" x="309.5" y="264.6" font-size="11.45">Avibulb Single Lap</text>
<circle cx="293.4" cy="274.8" r="2.9" fill="#FF4D0D"/>
<text class="sr" x="309.5" y="278.6" font-size="11.45">Avibulb Coach Peel</text>
<path d="M279.4 288.7H307.4" stroke="#F6BC4C" stroke-width="1.1"/>
<text class="sr" x="309.5" y="292.5" font-size="11.45">Prob. 50 %</text>
<path d="M279.4 302.6H307.4" stroke="#B266C2" stroke-width="1.1"/>
<text class="sr" x="309.5" y="306.4" font-size="11.45">Prob. 95 %</text>
<path d="M279.4 316.5H307.4" stroke="#84BC62" stroke-width="1.1"/>
<text class="sr" x="309.5" y="320.3" font-size="11.45">Prob. 5 %</text>
</g></svg></div></body></html>
